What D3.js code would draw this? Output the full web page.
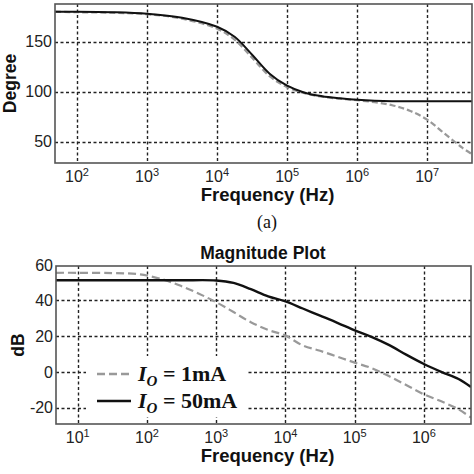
<!DOCTYPE html>
<html>
<head>
<meta charset="utf-8">
<script src="https://cdn.jsdelivr.net/npm/d3@7"></script>
<style>
  body { margin: 0; background: #fff; }
  svg { display: block; font-family: "Liberation Sans", Arial, sans-serif; }
</style>
</head>
<body>
<div id="chart"></div>
<script>
// phase plot (a): log10 of frequency and degrees
const phaseLogF50 = [1.69, 2, 2.5, 3, 3.5, 4, 4.25, 4.5, 4.75, 5, 5.25, 5.5, 5.75, 6, 6.5, 7, 7.64];
const phaseDeg50 = [180, 180, 179.5, 178, 174, 165, 155, 137, 118, 106, 99, 95.5, 93.5, 92, 90.5, 90.5, 90.5];
const phaseLogF1 = [1.69, 2, 2.5, 3, 3.5, 4, 4.25, 4.5, 4.75, 5, 5.25, 5.5, 5.75, 6, 6.25, 6.5, 6.75, 7, 7.25, 7.5, 7.64];
const phaseDeg1 = [180, 179.5, 179, 177.5, 173, 163, 152, 134, 115.5, 104.5, 98.5, 95, 93, 91.5, 89.5, 86.5, 81, 72, 58, 44, 37.5];
const phaseYTicks = [50, 100, 150];
const phaseXTicks = [2, 3, 4, 5, 6, 7];

// magnitude plot
const magLogF1 = [0.686, 1, 1.5, 1.9, 2.25, 2.5, 2.75, 3, 3.25, 3.5, 3.75, 4, 4.25, 4.5, 4.75, 5, 5.25, 5.5, 5.75, 6, 6.25, 6.5, 6.68];
const magDb1 = [55.5, 55.5, 55.3, 54.6, 51.5, 48, 43.8, 39, 33.5, 27.8, 23.5, 20.3, 14.8, 11.8, 8.5, 5.2, 2, -2.5, -7.5, -12.6, -16.5, -21, -25.6];
const magLogF50 = [0.686, 1, 2, 2.5, 3, 3.25, 3.5, 3.75, 4, 4.25, 4.5, 4.75, 5, 5.25, 5.5, 5.75, 6, 6.25, 6.5, 6.68];
const magDb50 = [51.3, 51.3, 51.3, 51.3, 51.2, 49.8, 46.3, 42.3, 39.5, 35.5, 31.5, 27.5, 23.3, 19.5, 15, 9.5, 4.4, 0, -4, -8.5];
const magYTicks = [-20, 0, 20, 40, 60];
const magXTicks = [1, 2, 3, 4, 5, 6];

const W = 474, H = 474;
const svg = d3.select('#chart').append('svg').attr('width', W).attr('height', H);
const crisp = v => Math.round(v) + 0.5;

const drawPanel = (box, xDom, yDom, xTicks, yTicks, series, ylabel, ylabelX) => {
    const x = d3.scaleLog().domain(xDom).range([box.l, box.r]);
    const y = d3.scaleLinear().domain(yDom).range([box.b, box.t]);
    const g = svg.append('g');

    // dashed grid
    g.selectAll('.vg').data(xTicks).enter().append('line')
        .attr('x1', d => crisp(x(10 ** d))).attr('x2', d => crisp(x(10 ** d)))
        .attr('y1', box.t).attr('y2', box.b)
        .attr('stroke', '#222').attr('stroke-width', 1.4).attr('stroke-dasharray', '3,2.5');
    g.selectAll('.hg').data(yTicks.filter(v => y(v) > box.t + 2)).enter().append('line')
        .attr('x1', box.l).attr('x2', box.r)
        .attr('y1', d => crisp(y(d))).attr('y2', d => crisp(y(d)))
        .attr('stroke', '#222').attr('stroke-width', 1.4).attr('stroke-dasharray', '3,2.5');

    // tick labels
    g.selectAll('.yl').data(yTicks).enter().append('text')
        .attr('x', box.l - 3).attr('y', d => y(d)).attr('dy', '0.36em')
        .attr('text-anchor', 'end').attr('font-size', 16).attr('fill', '#222')
        .text(d => d);
    const xl = g.selectAll('.xl').data(xTicks).enter().append('text')
        .attr('x', d => x(10 ** d)).attr('y', box.b + 19)
        .attr('text-anchor', 'middle').attr('font-size', 16).attr('fill', '#222');
    xl.append('tspan').text('10');
    xl.append('tspan').attr('dy', -6).attr('font-size', 11).text(d => d);

    g.append('text')
        .attr('transform', `translate(${ylabelX},${(box.t + box.b) / 2}) rotate(-90)`)
        .attr('text-anchor', 'middle').attr('font-size', 17.5).attr('font-weight', 'bold')
        .attr('fill', '#111').text(ylabel);
    g.append('text')
        .attr('x', (box.l + box.r) / 2 + 4).attr('y', box.b + 38)
        .attr('text-anchor', 'middle').attr('font-size', 18.5).attr('font-weight', 'bold')
        .attr('fill', '#111').text('Frequency (Hz)');

    const clipId = 'clip' + Math.round(box.t);
    g.append('clipPath').attr('id', clipId).append('rect')
        .attr('x', box.l).attr('y', box.t).attr('width', box.r - box.l).attr('height', box.b - box.t);

    const line = d3.line().x(d => x(10 ** d[0])).y(d => y(d[1])).curve(d3.curveCatmullRom.alpha(0.5));
    series.forEach(s => {
        g.append('path')
            .datum(d3.zip(s.f, s.v))
            .attr('clip-path', `url(#${clipId})`)
            .attr('d', line)
            .attr('fill', 'none')
            .attr('stroke', s.color)
            .attr('stroke-width', s.width)
            .attr('stroke-dasharray', s.dash || null);
    });

    g.append('rect')
        .attr('x', box.l).attr('y', box.t).attr('width', box.r - box.l).attr('height', box.b - box.t)
        .attr('fill', 'none').attr('stroke', '#555').attr('stroke-width', 1.6);
    return { g, x, y };
};

drawPanel({ l: 55, r: 472, t: 4, b: 163 }, [48.5, 10 ** 7.64], [28.7, 187.7], phaseXTicks, phaseYTicks, [
    { f: phaseLogF1, v: phaseDeg1, color: '#999', width: 2.2, dash: '6,3' },
    { f: phaseLogF50, v: phaseDeg50, color: '#111', width: 2 }
], 'Degree', 16);

svg.append('text')
    .attr('x', 267).attr('y', 228)
    .attr('text-anchor', 'middle').attr('font-size', 18)
    .attr('font-family', '"Liberation Serif", "Times New Roman", serif')
    .attr('fill', '#111').text('(a)');

svg.append('text')
    .attr('x', 263).attr('y', 259)
    .attr('text-anchor', 'middle').attr('font-size', 17.5).attr('font-weight', 'bold')
    .attr('fill', '#111').text('Magnitude Plot');

const mag = drawPanel({ l: 56, r: 471, t: 266, b: 424 }, [4.85, 10 ** 6.68], [-29.2, 59.3], magXTicks, magYTicks, [
    { f: magLogF1, v: magDb1, color: '#999', width: 2.2, dash: '8,4' },
    { f: magLogF50, v: magDb50, color: '#111', width: 2.4 }
], 'dB', 24);

// legend with white background covering the grid
const legend = mag.g.append('g');
legend.append('rect').attr('x', 86).attr('y', 356).attr('width', 160).attr('height', 61).attr('fill', '#fff');
const legendItems = [
    { label: '1mA', color: '#999', dash: '8,4', y: 374 },
    { label: '50mA', color: '#111', dash: null, y: 401 }
];
legendItems.forEach(it => {
    legend.append('line')
        .attr('x1', 97).attr('x2', 131).attr('y1', it.y).attr('y2', it.y)
        .attr('stroke', it.color).attr('stroke-width', 2.4).attr('stroke-dasharray', it.dash);
    const t = legend.append('text')
        .attr('x', 138).attr('y', it.y + 7)
        .attr('font-family', '"Liberation Serif", "Times New Roman", serif')
        .attr('font-size', 22).attr('font-weight', 'bold').attr('fill', '#111');
    t.append('tspan').attr('font-style', 'italic').text('I');
    t.append('tspan').attr('font-style', 'italic').attr('font-size', 15).attr('dy', 5).text('O');
    t.append('tspan').attr('dy', -5).text(' = ' + it.label);
});
</script>
</body>
</html>
